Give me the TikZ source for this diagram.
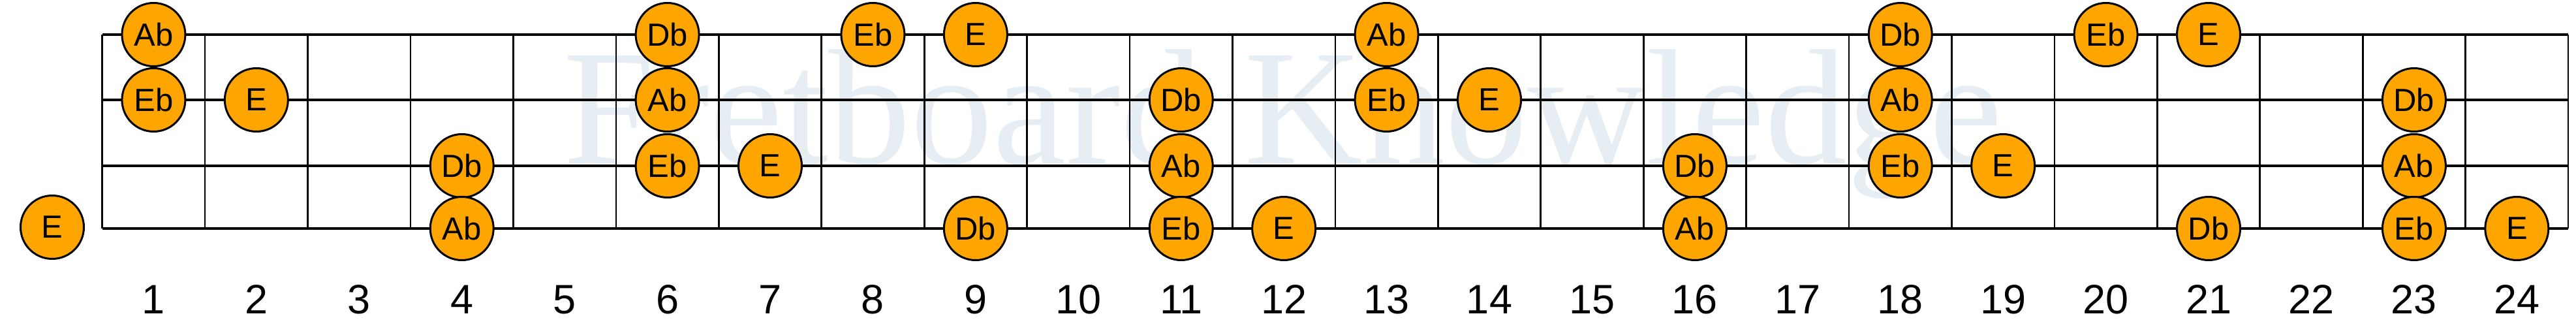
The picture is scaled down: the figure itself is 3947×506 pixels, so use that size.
\documentclass[tikz,border=0pt]{standalone}
\usepackage{fontspec}
\setmainfont{Liberation Sans}
\newfontfamily\wmfont{Liberation Serif}
\definecolor{noteorange}{RGB}{255,165,0}
\definecolor{wmblue}{RGB}{230,238,244}
\begin{document}
\begin{tikzpicture}[x=1pt,y=-1pt,
  note/.style={circle, draw=black, line width=3pt, fill=noteorange, minimum size=97pt, inner sep=0pt, font=\fontsize{49}{50}\selectfont},
  fretnum/.style={font=\fontsize{63}{64}\selectfont, anchor=base, inner sep=0pt},
  stringline/.style={line width=3.2pt, black},
  fretline/.style={line width=2.7pt, black}]
\useasboundingbox (0,0) rectangle (3947,506);
\node[font=\wmfont\fontsize{252}{252}\selectfont, text=wmblue, anchor=base, inner sep=0pt] (wm) at (1966,250) {Fretboard Knowledge};
% strings
\foreach \y in {53,153,254,350} \draw[stringline] (156.7,\y) -- (3935,\y);
% frets
\foreach \k in {0,...,24} \draw[fretline] ({156.7+157.43*\k},53) -- ({156.7+157.43*\k},350);
% fret numbers
\foreach \k in {1,...,24} \node[fretnum] (num\k) at ({156.7+157.43*(\k-0.5)},480) {\k};
% open string note
\node[note] (open) at (80,348) {E};
% fretted notes
\foreach \f/\y/\t in {
  1/53/Ab, 1/153/Eb, 2/153/E,
  4/254/Db, 4/350/Ab,
  6/53/Db, 6/153/Ab, 6/254/Eb, 7/254/E,
  8/53/Eb, 9/53/E, 9/350/Db,
  11/153/Db, 11/254/Ab, 11/350/Eb, 12/350/E,
  13/53/Ab, 13/153/Eb, 14/153/E,
  16/254/Db, 16/350/Ab,
  18/53/Db, 18/153/Ab, 18/254/Eb, 19/254/E,
  20/53/Eb, 21/53/E, 21/350/Db,
  23/153/Db, 23/254/Ab, 23/350/Eb, 24/350/E}
  \node[note] (note\f-\y) at ({156.7+157.43*(\f-0.5)},\y) {\t};
\end{tikzpicture}
\end{document}
